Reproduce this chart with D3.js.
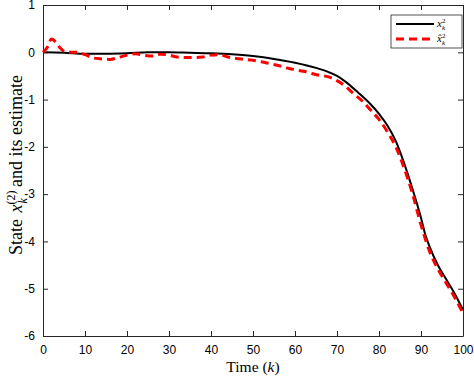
<!DOCTYPE html>
<html>
<head>
<meta charset="utf-8">
<script src="https://cdn.jsdelivr.net/npm/d3@7"></script>
<style>
body { margin: 0; background: #fff; }
</style>
</head>
<body>
<script>
// true state x_k^(2)
var stateK = [0, 5, 10, 15, 20, 25, 30, 35, 40, 45, 50, 55, 60, 65, 68, 70, 72, 75, 78, 80, 82, 84, 86, 88, 90, 91, 92, 94, 96, 98, 100];
var stateV = [0, -0.01, -0.03, -0.03, -0.02, 0, 0, -0.01, -0.02, -0.04, -0.08, -0.14, -0.22, -0.33, -0.42, -0.5, -0.62, -0.85, -1.1, -1.3, -1.55, -1.88, -2.35, -2.9, -3.5, -3.85, -4.1, -4.5, -4.8, -5.1, -5.45];

// estimate
var estK = [0, 1, 2, 3, 4, 5, 6, 8, 10, 12, 14, 16, 18, 20, 22, 24, 26, 28, 30, 32, 34, 36, 38, 40, 42, 44, 46, 48, 50, 52, 54, 56, 58, 60, 62, 64, 66, 68, 70, 72, 74, 76, 78, 80, 82, 84, 86, 88, 90, 92, 94, 96, 98, 100];
var estV = [0, 0.1, 0.28, 0.22, 0.1, 0.02, 0, 0, -0.05, -0.12, -0.14, -0.15, -0.11, -0.06, -0.03, -0.06, -0.08, -0.04, -0.06, -0.1, -0.11, -0.11, -0.1, -0.06, -0.05, -0.1, -0.13, -0.15, -0.17, -0.2, -0.24, -0.28, -0.33, -0.37, -0.4, -0.45, -0.49, -0.52, -0.6, -0.72, -0.88, -1.03, -1.22, -1.42, -1.68, -2.0, -2.45, -3.0, -3.65, -4.2, -4.58, -4.88, -5.18, -5.52];

var xTicks = [0, 10, 20, 30, 40, 50, 60, 70, 80, 90, 100];
var yTicks = [1, 0, -1, -2, -3, -4, -5, -6];

var width = 474, height = 377;
var mLeft = 43, mRight = 463, mTop = 5, mBottom = 336;

var svg = d3.select("body").append("svg")
  .attr("width", width)
  .attr("height", height);

var x = d3.scaleLinear().domain([0, 100]).range([mLeft, mRight]);
var y = d3.scaleLinear().domain([-6, 1]).range([mBottom, mTop]);

var axisColor = "#262626";
var serif = "Liberation Serif, Times New Roman, serif";

// axes, MATLAB style: ticks inside, box on
function styleAxis(g) {
  g.select(".domain").attr("stroke", axisColor).attr("stroke-width", 1);
  g.selectAll(".tick line").attr("stroke", axisColor);
  g.selectAll(".tick text").attr("fill", "#000").attr("font-size", "12px")
    .attr("font-family", "Liberation Sans, Arial, sans-serif");
}

svg.append("g").attr("transform", `translate(0,${mBottom})`)
  .call(d3.axisBottom(x).tickValues(xTicks).tickSizeInner(-5).tickSizeOuter(0).tickPadding(9))
  .call(styleAxis);
svg.append("g").attr("transform", `translate(0,${mTop})`)
  .call(d3.axisTop(x).tickValues(xTicks).tickSizeInner(-5).tickSizeOuter(0).tickFormat(""))
  .call(styleAxis);
svg.append("g").attr("transform", `translate(${mLeft},0)`)
  .call(d3.axisLeft(y).tickValues(yTicks).tickSizeInner(-5).tickSizeOuter(0).tickPadding(8)
    .tickFormat(d => String(d)))
  .call(styleAxis);
svg.append("g").attr("transform", `translate(${mRight},0)`)
  .call(d3.axisRight(y).tickValues(yTicks).tickSizeInner(-5).tickSizeOuter(0).tickFormat(""))
  .call(styleAxis);

var line = d3.line()
  .x(d => x(d[0]))
  .y(d => y(d[1]))
  .curve(d3.curveMonotoneX);

svg.append("path")
  .datum(d3.zip(stateK, stateV))
  .attr("fill", "none")
  .attr("stroke", "#000")
  .attr("stroke-width", 2)
  .attr("d", line);

svg.append("path")
  .datum(d3.zip(estK, estV))
  .attr("fill", "none")
  .attr("stroke", "#ff0000")
  .attr("stroke-width", 3)
  .attr("stroke-dasharray", "8,5")
  .attr("d", line);

// legend
var lg = svg.append("g");
lg.append("rect")
  .attr("x", 391).attr("y", 15).attr("width", 71).attr("height", 33)
  .attr("fill", "#fff").attr("stroke", axisColor).attr("stroke-width", 0.8);
lg.append("line").attr("x1", 396).attr("x2", 434).attr("y1", 24).attr("y2", 24)
  .attr("stroke", "#000").attr("stroke-width", 2);
lg.append("line").attr("x1", 396).attr("x2", 434).attr("y1", 39).attr("y2", 39)
  .attr("stroke", "#ff0000").attr("stroke-width", 3).attr("stroke-dasharray", "8,5");

function legendLabel(ty, hat) {
  var t = lg.append("text").attr("x", 437).attr("y", ty)
    .attr("font-family", serif)
    .attr("font-size", "11px").attr("font-style", "italic");
  t.append("tspan").text(hat ? "x\u0302" : "x");
  t.append("tspan").attr("dy", -4).attr("font-size", "7px").attr("font-style", "normal").text("2");
  t.append("tspan").attr("dx", -3.5).attr("dy", 7).attr("font-size", "7px").text("k");
}
legendLabel(27, false);
legendLabel(42, true);

// axis labels
var xl = svg.append("text")
  .attr("x", (mLeft + mRight) / 2).attr("y", 372)
  .attr("text-anchor", "middle")
  .attr("font-family", serif)
  .attr("font-size", "15.5px");
xl.append("tspan").text("Time (");
xl.append("tspan").attr("font-style", "italic").text("k");
xl.append("tspan").text(")");

var yl = svg.append("text")
  .attr("transform", `translate(22,165) rotate(-90)`)
  .attr("text-anchor", "middle")
  .attr("font-family", serif)
  .attr("font-size", "18px");
yl.append("tspan").text("State ");
yl.append("tspan").attr("dx", 2).attr("font-style", "italic").text("x");
yl.append("tspan").attr("dy", -7).attr("font-size", "12px").text("(2)");
yl.append("tspan").attr("dx", -13).attr("dy", 12).attr("font-size", "12px").attr("font-style", "italic").text("k");
yl.append("tspan").attr("dx", 11).attr("dy", -5).text("and its estimate");
</script>
</body>
</html>
